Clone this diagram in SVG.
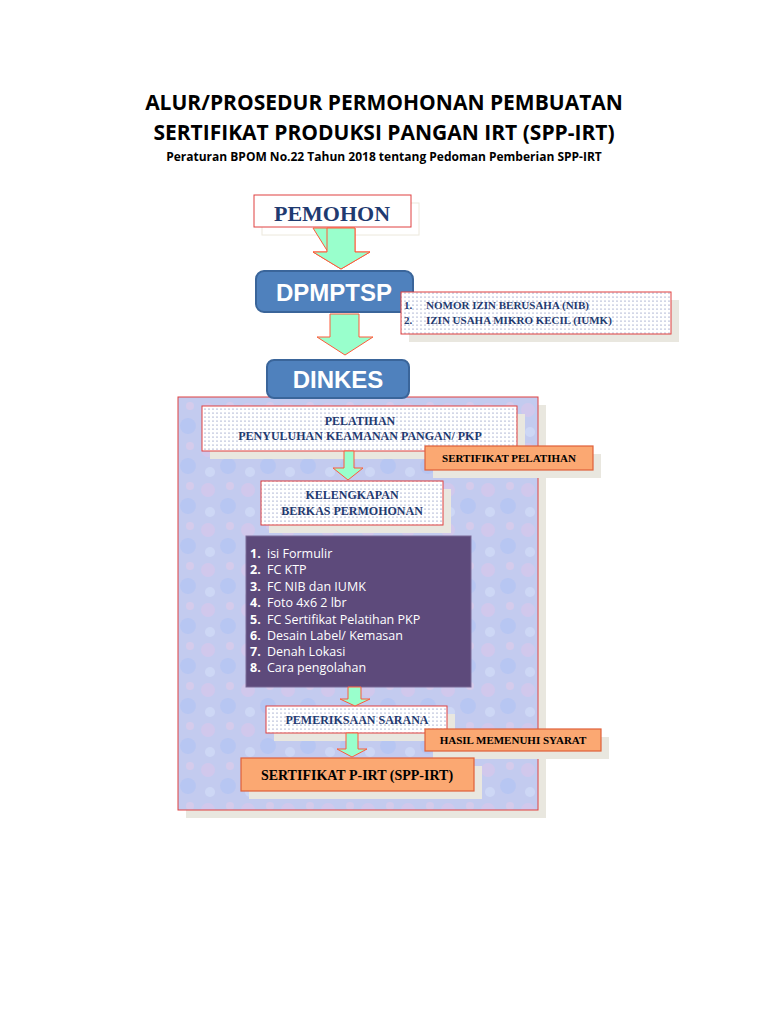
<svg xmlns="http://www.w3.org/2000/svg" width="768" height="1024" viewBox="0 0 768 1024">
<defs>
<pattern id="dots" width="4" height="4" patternUnits="userSpaceOnUse"><rect width="4" height="4" fill="#ffffff"/><circle cx="1" cy="1" r="0.6" fill="#5a6aa8"/></pattern>
<pattern id="tex" width="40" height="40" patternUnits="userSpaceOnUse"><rect width="40" height="40" fill="#c3cbef"/><circle cx="8" cy="10" r="7" fill="#d7c6ec" opacity="0.7"/><circle cx="28" cy="26" r="8" fill="#b4c4f2" opacity="0.8"/><circle cx="30" cy="6" r="4" fill="#e1cbe8" opacity="0.6"/><circle cx="10" cy="32" r="5" fill="#cfd9f6" opacity="0.8"/></pattern>
<style>
.shadow{fill:#e9e7df}
.dot{fill:url(#dots);stroke:#e04040;stroke-width:1}
.org{fill:#fba872;stroke:#e0603a;stroke-width:1.2}
.blue{fill:#4f81bd;stroke:#3a659a;stroke-width:2}
.arr{fill:#99ffcc;stroke:#ff5a3a;stroke-width:1}
.st{font-family:"Liberation Serif",serif;font-weight:bold;fill:#1f3a70}
.sb{font-family:"Liberation Serif",serif;font-weight:bold;fill:#000}
.wh{font-family:"Liberation Sans",sans-serif;font-weight:bold;fill:#fff}
.li{font-family:"Open Sans",sans-serif;font-size:12.5px;fill:#fff}
.tt{font-family:"Open Sans",sans-serif;font-weight:bold;fill:#000;text-anchor:middle}
</style>
</defs>
<text class="tt" x="384" y="110" font-size="21">ALUR/PROSEDUR PERMOHONAN PEMBUATAN</text>
<text class="tt" x="384" y="140" font-size="21">SERTIFIKAT PRODUKSI PANGAN IRT (SPP-IRT)</text>
<text class="tt" x="384" y="161" font-size="12">Peraturan BPOM No.22 Tahun 2018 tentang Pedoman Pemberian SPP-IRT</text>

<g id="container">
<rect class="shadow" x="186" y="405" width="360" height="413"/>
<rect x="178" y="397" width="360" height="413" fill="url(#tex)" stroke="#e04040" stroke-width="1"/>
</g>

<g id="pemohon">
<rect x="262" y="203" width="157" height="32" fill="#fff" stroke="#ece8dc"/>
<rect x="254" y="195" width="157" height="32" fill="#fff" stroke="#e04040"/>
<text class="st" x="332" y="221" font-size="22" text-anchor="middle" fill="#0e1f5c">PEMOHON</text>
</g>
<g id="dpmptsp">
<rect class="blue" x="256" y="271" width="157" height="41" rx="8"/>
<text class="wh" x="334" y="301" font-size="24" text-anchor="middle">DPMPTSP</text>
</g>
<g id="nib">
<rect class="shadow" x="409" y="300" width="270" height="42"/>
<rect class="dot" x="401" y="292" width="270" height="42"/>
<text class="st" x="404" y="309" font-size="11">1.</text><text class="st" x="426" y="309" font-size="11">NOMOR IZIN BERUSAHA (NIB)</text>
<text class="st" x="404" y="324" font-size="11">2.</text><text class="st" x="426" y="324" font-size="11">IZIN USAHA MIKRO KECIL (IUMK)</text>
</g>
<g id="dinkes">
<rect class="blue" x="267" y="360" width="142" height="38" rx="7"/>
<text class="wh" x="338" y="388" font-size="24" text-anchor="middle">DINKES</text>
</g>
<g id="pelatihan">
<rect class="shadow" x="210" y="414" width="315" height="45"/>
<rect class="dot" x="202" y="406" width="315" height="45"/>
<text class="st" x="360" y="425" font-size="12" text-anchor="middle">PELATIHAN</text>
<text class="st" x="360" y="440" font-size="12" text-anchor="middle">PENYULUHAN KEAMANAN PANGAN/ PKP</text>
</g>
<g id="sert-pelatihan">
<rect class="shadow" x="433" y="454" width="168" height="24"/>
<rect class="org" x="425" y="446" width="168" height="24"/>
<text class="sb" x="509" y="462" font-size="11" text-anchor="middle">SERTIFIKAT PELATIHAN</text>
</g>
<g id="kelengkapan">
<rect class="shadow" x="269" y="489" width="182" height="44"/>
<rect class="dot" x="261" y="481" width="182" height="44"/>
<text class="st" x="352" y="499" font-size="12" text-anchor="middle">KELENGKAPAN</text>
<text class="st" x="352" y="515" font-size="12" text-anchor="middle">BERKAS PERMOHONAN</text>
</g>
<g id="berkas">
<rect x="246" y="536" width="225" height="151" fill="#5d4a7b" stroke="#7a6a98"/>
<g class="li">
<text x="250" y="558" font-weight="bold">1.</text><text x="267" y="558">isi Formulir</text>
<text x="250" y="574" font-weight="bold">2.</text><text x="267" y="574">FC  KTP</text>
<text x="250" y="591" font-weight="bold">3.</text><text x="267" y="591">FC NIB dan IUMK</text>
<text x="250" y="607" font-weight="bold">4.</text><text x="267" y="607">Foto 4x6 2 lbr</text>
<text x="250" y="624" font-weight="bold">5.</text><text x="267" y="624">FC Sertifikat Pelatihan PKP</text>
<text x="250" y="640" font-weight="bold">6.</text><text x="267" y="640">Desain Label/ Kemasan</text>
<text x="250" y="656" font-weight="bold">7.</text><text x="267" y="656">Denah Lokasi</text>
<text x="250" y="672" font-weight="bold">8.</text><text x="267" y="672">Cara pengolahan</text>
</g>
</g>
<g id="pemeriksaan">
<rect class="shadow" x="274" y="714" width="181" height="27"/>
<rect class="dot" x="266" y="706" width="181" height="27"/>
<text class="st" x="357" y="724" font-size="12" text-anchor="middle">PEMERIKSAAN SARANA</text>
</g>
<g id="hasil">
<rect class="shadow" x="433" y="737" width="176" height="22"/>
<rect class="org" x="425" y="729" width="176" height="22"/>
<text class="sb" x="513" y="744" font-size="11" text-anchor="middle">HASIL MEMENUHI SYARAT</text>
</g>
<g id="sertifikat">
<rect class="shadow" x="249" y="766" width="233" height="33"/>
<rect class="org" x="241" y="758" width="233" height="33"/>
<text class="sb" x="357" y="780" font-size="14" text-anchor="middle">SERTIFIKAT P-IRT (SPP-IRT)</text>
</g>

<g id="connectors">
<polygon class="arr" points="313,228 355,228 355,252 370,252 341,269 313,252 328,252 328,252"/>
<polygon class="arr" points="327,228 355,228 355,252 370,252 341,269 313,252 327,252"/>
<polygon class="arr" points="330,314 359,314 359,337 373,337 345,355 317,337 330,337"/>
<polygon class="arr" points="344,451 354,451 354,468 363,468 348,480 333,468 344,468"/>
<polygon class="arr" points="348,687 361,687 361,699 370,699 355,706 340,699 348,699"/>
<polygon class="arr" points="346,733 358,733 358,749 367,749 352,757 337,749 346,749"/>
</g>
</svg>
